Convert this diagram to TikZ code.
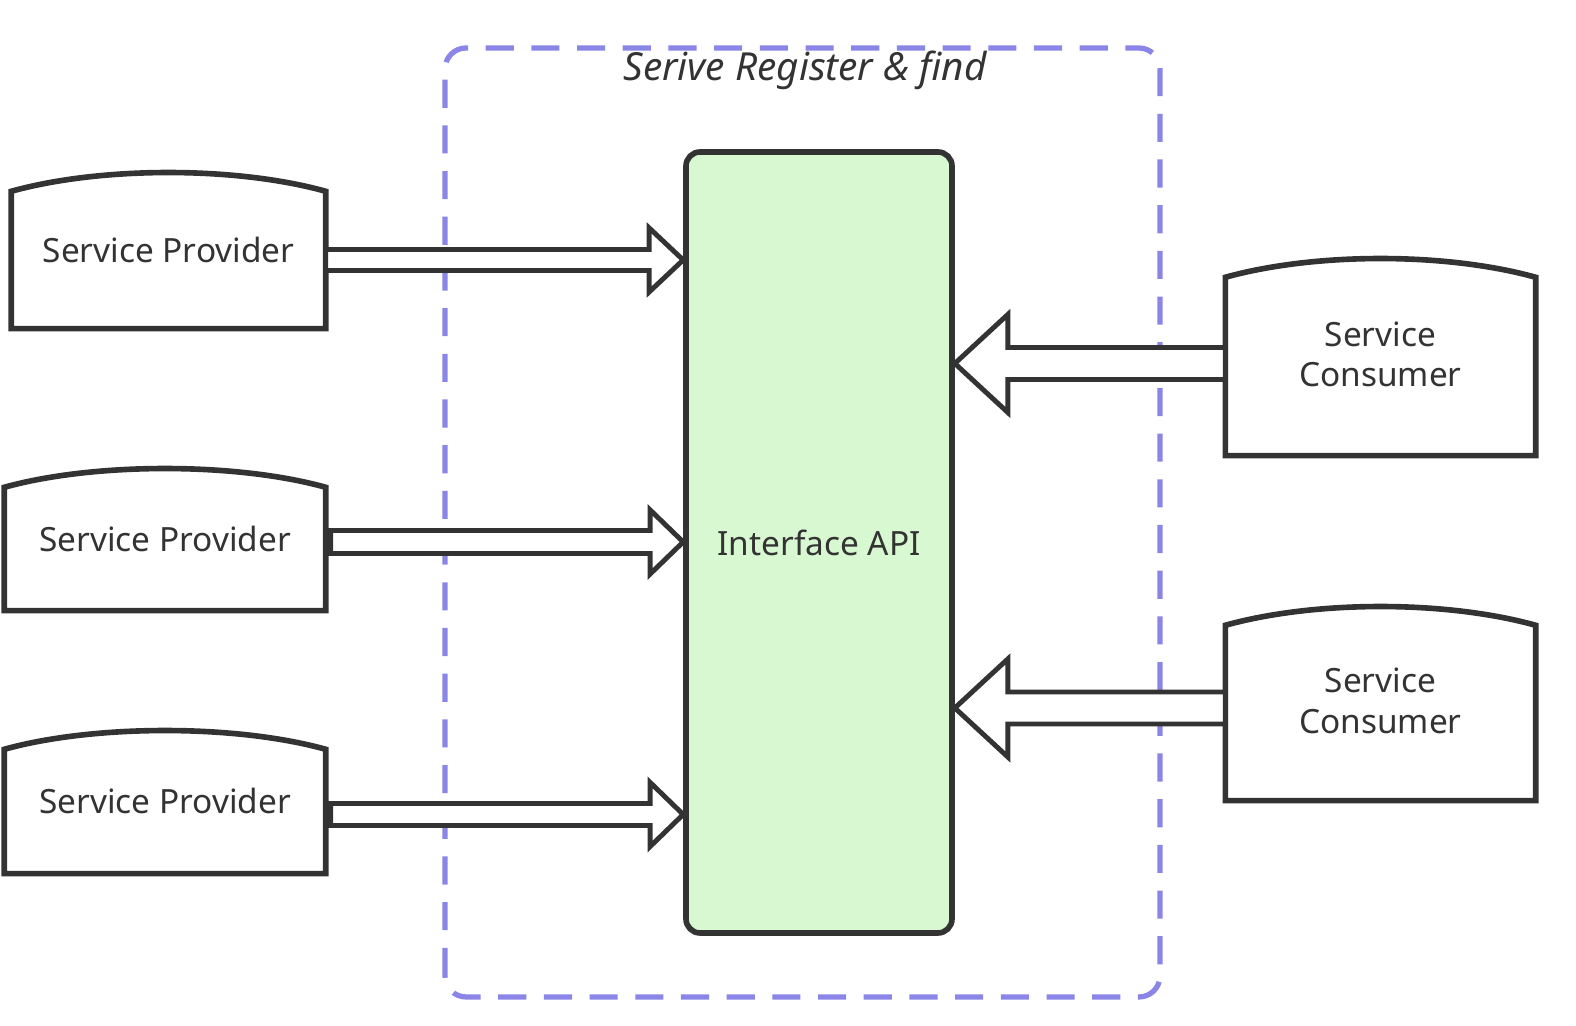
\documentclass[tikz,border=0pt]{standalone}
\usepackage{fontspec}
\setmainfont{Noto Sans}
\usetikzlibrary{positioning,calc}

\definecolor{regline}{HTML}{8A85E6}
\definecolor{apifill}{HTML}{D8F8D2}

\tikzset{
  box/.style={rectangle,draw=none,inner sep=0pt,align=center,font=\fontsize{9.5}{11.5}\selectfont,text=black!80},
  hollow/.style={draw=black!80,line width=1.4pt,fill=white,line join=miter},
}

% block arrow from (#1) to (#2) at height of (#1): shaft half #3, head half #4, head length #5
\newcommand{\blockarrow}[5]{%
  \draw[hollow] let \p1=(#1), \p2=(#2), \n1={sign(\x2-\x1)} in
    (\x1,\y1+#3cm) -- (\x2-\n1*#5cm,\y1+#3cm) -- (\x2-\n1*#5cm,\y1+#4cm) -- (\x2,\y1)
    -- (\x2-\n1*#5cm,\y1-#4cm) -- (\x2-\n1*#5cm,\y1-#3cm) -- (\x1,\y1-#3cm) -- cycle;}

% storage-like box with curved top
\newcommand{\curvedbox}[1]{%
  \draw[draw=black!80,line width=1.6pt,fill=white]
    (#1.south west) -- (#1.north west)
    .. controls ($(#1.north west)+(0.9,0.25)$) and ($(#1.north east)+(-0.9,0.25)$) .. (#1.north east)
    -- (#1.south east) -- cycle;}

\begin{document}
\begin{tikzpicture}
  \useasboundingbox (0,0) rectangle (15.76,10.26);

  % register area
  \draw[regline,line width=1.5pt,dash pattern=on 8pt off 5pt,rounded corners=6pt]
    (4.45,0.29) rectangle (11.60,9.78);
  \node[font=\bfseries\itshape\fontsize{11}{13}\selectfont,text=black!80] (title) at (8.05,9.56) {Serive Register \& find};

  \node[box,draw=black!80,line width=1.6pt,fill=apifill,rounded corners=4pt,
        minimum width=2.66cm,minimum height=7.81cm] (api) at (8.19,4.835) {Interface API};

  % providers
  \node[box,minimum width=3.13cm,minimum height=1.36cm] (p1) at (1.685,7.66) {};
  \node[box,minimum width=3.20cm,minimum height=1.22cm] (p2) at (1.65,4.77) {};
  \node[box,minimum width=3.20cm,minimum height=1.23cm] (p3) at (1.65,2.145) {};
  % consumers
  \node[box,minimum width=3.09cm,minimum height=1.77cm] (c1) at (13.805,6.595) {};
  \node[box,minimum width=3.09cm,minimum height=1.74cm] (c2) at (13.805,3.13) {};

  \foreach \n in {p1,p2,p3,c1,c2} {\curvedbox{\n}}

  \node[box] at ([yshift=0.1cm]p1) {Service Provider};
  \node[box] at ([yshift=0.1cm]p2) {Service Provider};
  \node[box] at ([yshift=0.1cm]p3) {Service Provider};
  \node[box] at ([yshift=0.12cm]c1) {Service\\Consumer};
  \node[box] at ([yshift=0.12cm]c2) {Service\\Consumer};

  % arrows
  \coordinate (a1) at ($(p1.east)+(0,0)$);
  \coordinate (a2) at ($(p2.east)+(0.05,0.07)$);
  \coordinate (a3) at ($(p3.east)+(0.05,-0.03)$);
  \coordinate (b1) at ($(c1.west)+(0,0.03)$);
  \coordinate (b2) at ($(c2.west)+(0,0.05)$);
  \blockarrow{a1}{api.west |- a1}{0.105}{0.32}{0.34}
  \blockarrow{a2}{api.west |- a2}{0.115}{0.32}{0.33}
  \blockarrow{a3}{api.west |- a3}{0.11}{0.32}{0.33}
  \blockarrow{b1}{api.east |- b1}{0.16}{0.49}{0.53}
  \blockarrow{b2}{api.east |- b2}{0.16}{0.49}{0.53}
\end{tikzpicture}
\end{document}
